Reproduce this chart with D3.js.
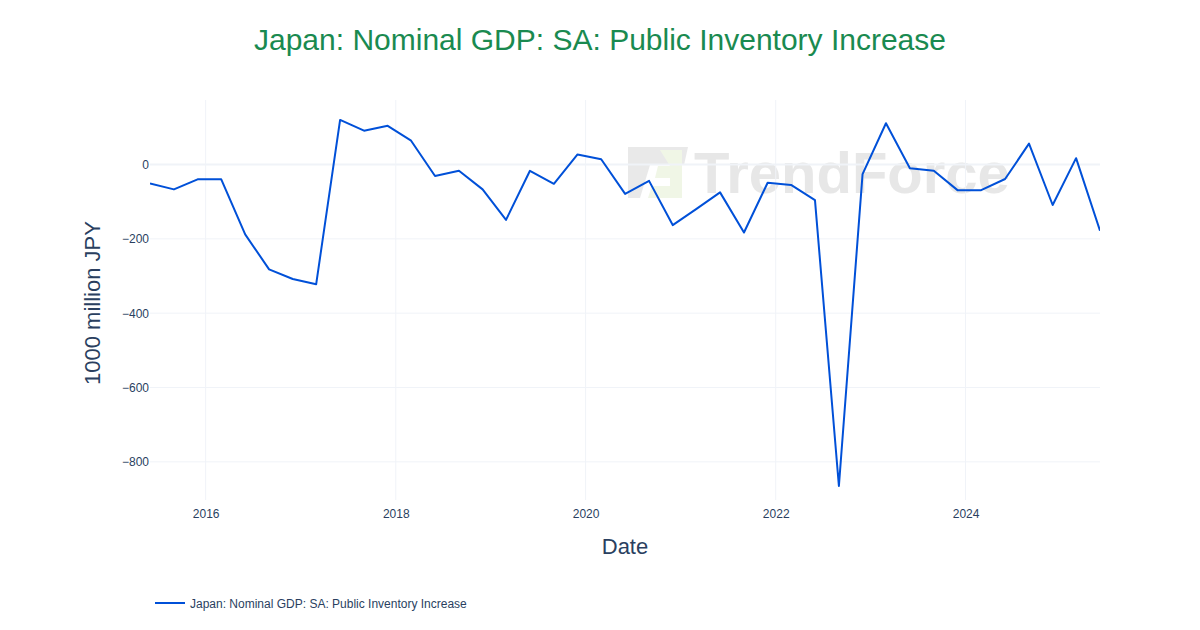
<!DOCTYPE html>
<html><head><meta charset="utf-8">
<script src="https://cdn.jsdelivr.net/npm/d3@7"></script>
<style>body{margin:0;background:#fff;} text{font-family:"Liberation Sans",Arial,sans-serif;}</style>
</head><body><svg id="c" width="1200" height="630"></svg>
<script>
const dates = ["2015-06-01","2015-09-01","2015-12-01","2016-03-01","2016-06-01","2016-09-01","2016-12-01","2017-03-01","2017-06-01","2017-09-01","2017-12-01","2018-03-01","2018-06-01","2018-09-01","2018-12-01","2019-03-01","2019-06-01","2019-09-01","2019-12-01","2020-03-01","2020-06-01","2020-09-01","2020-12-01","2021-03-01","2021-06-01","2021-09-01","2021-12-01","2022-03-01","2022-06-01","2022-09-01","2022-12-01","2023-03-01","2023-06-01","2023-09-01","2023-12-01","2024-03-01","2024-06-01","2024-09-01","2024-12-01","2025-03-01","2025-06-01"];
const values = [-51,-67,-40,-40,-188,-282,-308,-322,120,91,104,64,-31,-17,-67,-149,-17,-52,27,14,-79,-44,-163,-120,-75,-183,-49,-55,-96,-865,-26,111,-10,-17,-69,-69,-39,56,-109,17,-178];
const yTicks = [0,-200,-400,-600,-800];
const xTickYears = [2016,2018,2020,2022,2024];
const title = "Japan: Nominal GDP: SA: Public Inventory Increase";
const seriesName = "Japan: Nominal GDP: SA: Public Inventory Increase";

const svg = d3.select("#c");
const parse = d3.timeParse("%Y-%m-%d");
const data = dates.map((d,i)=>({d:parse(d), v:values[i]}));
const L=150,R=1100,T=100,B=500;
const x = d3.scaleTime().domain([parse(dates[0]), parse(dates[dates.length-1])]).range([L,R]);
const y = d3.scaleLinear().domain([-902.6,173.5]).range([B,T]);
const txtCol="#2a3f5f", gridCol="#f0f3f8";

// watermark
const wm = svg.append("g").attr("opacity",0.5);
wm.append("path").attr("d","M628,147 L688,147 L684,165 L650,165 L640,198 L628,198 Z").attr("fill","#d5d5d5");
wm.append("path").attr("d","M660,150 L682,150 L682,198 L648,198 L652,186 L670,186 L670,178 L655,178 L658,166 L670,166 Z").attr("fill","#e3efcf");
wm.append("text").attr("x",694).attr("y",193).attr("font-size",58).attr("font-weight","bold").attr("fill","#d0d0d0").text("TrendForce");

// grid
svg.append("g").selectAll("line").data(xTickYears).join("line")
  .attr("x1",d=>x(new Date(d,0,1))).attr("x2",d=>x(new Date(d,0,1)))
  .attr("y1",T).attr("y2",B).attr("stroke",gridCol).attr("stroke-width",1);
svg.append("g").selectAll("line").data(yTicks).join("line")
  .attr("x1",L).attr("x2",R).attr("y1",d=>y(d)).attr("y2",d=>y(d))
  .attr("stroke",gridCol).attr("stroke-width",d=>d===0?2:1);

// axes
const yAxis = d3.axisLeft(y).tickValues(yTicks).tickSize(0).tickPadding(0).tickFormat(d=>d3.format(",")(d).replace("-","\u2212"));
const gy = svg.append("g").attr("transform",`translate(${L-1},0)`).call(yAxis);
gy.select(".domain").remove();
gy.selectAll("text").attr("font-size",12).attr("fill",txtCol).attr("font-family","Liberation Sans, Arial, sans-serif");
const xAxis = d3.axisBottom(x).tickValues(xTickYears.map(v=>new Date(v,0,1))).tickSize(0).tickPadding(0).tickFormat(d3.timeFormat("%Y"));
const gx = svg.append("g").attr("transform",`translate(0,${B+9})`).call(xAxis);
gx.select(".domain").remove();
gx.selectAll("text").attr("font-size",12).attr("fill",txtCol).attr("font-family","Liberation Sans, Arial, sans-serif");

// line
svg.append("defs").append("clipPath").attr("id","clip").append("rect").attr("x",L).attr("y",T-20).attr("width",R-L).attr("height",B-T+40);
svg.append("path").datum(data).attr("clip-path","url(#clip)")
  .attr("d",d3.line().x(d=>x(d.d)).y(d=>y(d.v)))
  .attr("fill","none").attr("stroke","#0050d8").attr("stroke-width",2).attr("stroke-linejoin","round");

// titles
svg.append("text").attr("x",600).attr("y",50).attr("text-anchor","middle").attr("font-size",30).attr("fill","#1a8a50").text(title);
svg.append("text").attr("x",625).attr("y",554).attr("text-anchor","middle").attr("font-size",22).attr("fill",txtCol).text("Date");
svg.append("text").attr("transform","translate(100,303) rotate(-90)").attr("text-anchor","middle").attr("font-size",22).attr("fill",txtCol).text("1000 million JPY");

// legend
svg.append("line").attr("x1",155).attr("x2",185).attr("y1",603).attr("y2",603).attr("stroke","#0050d8").attr("stroke-width",2);
svg.append("text").attr("x",190).attr("y",608).attr("font-size",12).attr("fill",txtCol).text(seriesName);
</script></body></html>
